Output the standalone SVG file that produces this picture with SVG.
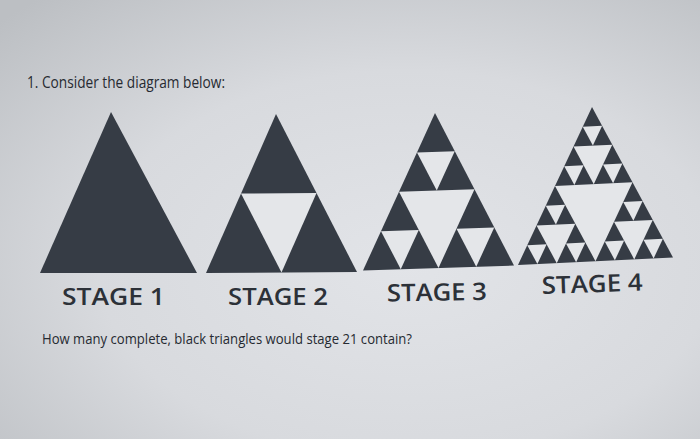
<svg xmlns="http://www.w3.org/2000/svg" xmlns:xlink="http://www.w3.org/1999/xlink" width="700" height="439" viewBox="0 0 700 439">
  <defs>
    <radialGradient id="paper" cx="0.58" cy="0.6" r="0.8">
      <stop offset="0" stop-color="#e2e4e8"/>
      <stop offset="0.55" stop-color="#d8dade"/>
      <stop offset="1" stop-color="#bcbfc3"/>
    </radialGradient>
    <!-- Sierpinski holes in canonical coords: base (0,0)-(1,0), apex (0.5,1) -->
    <g id="h1">
      <polygon class="hole" points="0.25,0.5 0.75,0.5 0.5,0"/>
    </g>
    <g id="h2">
      <polygon class="hole" points="0.125,0.25 0.375,0.25 0.25,0"/>
      <polygon class="hole" points="0.625,0.25 0.875,0.25 0.75,0"/>
      <polygon class="hole" points="0.375,0.75 0.625,0.75 0.5,0.5"/>
    </g>
    <g id="h3">
      <polygon class="hole" points="0.0625,0.125 0.1875,0.125 0.125,0"/>
      <polygon class="hole" points="0.3125,0.125 0.4375,0.125 0.375,0"/>
      <polygon class="hole" points="0.1875,0.375 0.3125,0.375 0.25,0.25"/>
      <polygon class="hole" points="0.5625,0.125 0.6875,0.125 0.625,0"/>
      <polygon class="hole" points="0.8125,0.125 0.9375,0.125 0.875,0"/>
      <polygon class="hole" points="0.6875,0.375 0.8125,0.375 0.75,0.25"/>
      <polygon class="hole" points="0.3125,0.625 0.4375,0.625 0.375,0.5"/>
      <polygon class="hole" points="0.5625,0.625 0.6875,0.625 0.625,0.5"/>
      <polygon class="hole" points="0.4375,0.875 0.5625,0.875 0.5,0.75"/>
    </g>
    <polygon id="tri" class="dark" points="0,0 1,0 0.5,1"/>
  </defs>
  <style>
    .dark { fill: #363c45; }
    .hole { fill: #e4e6e9; }
    .txt { font-family: "Open Sans", "Liberation Sans", sans-serif; font-weight: 500; fill: #262a31; }
    .stage { font-family: "Open Sans", "Liberation Sans", sans-serif; font-weight: 600; font-size: 24px; fill: #2c3138; }
  </style>

  <rect x="0" y="0" width="700" height="439" fill="url(#paper)"/>

  <text class="txt" x="27" y="88" font-size="16.5" textLength="198" lengthAdjust="spacingAndGlyphs">1. Consider the diagram below:</text>

  <g id="stage1" transform="matrix(157,0,-7.5,-161,40,273)">
    <use xlink:href="#tri"/>
  </g>
  <g id="stage2" transform="matrix(151,-1,-5.5,-158.5,206,273)">
    <use xlink:href="#tri"/>
    <use xlink:href="#h1"/>
  </g>
  <g id="stage3" transform="matrix(151,-5,-3.5,-155,363,270.5)">
    <use xlink:href="#tri"/>
    <use xlink:href="#h1"/>
    <use xlink:href="#h2"/>
  </g>
  <g id="stage4" transform="matrix(155,-7.5,-3.5,-154.25,518,265)">
    <use xlink:href="#tri"/>
    <use xlink:href="#h1"/>
    <use xlink:href="#h2"/>
    <use xlink:href="#h3"/>
  </g>

  <g id="labels">
    <text class="stage" x="62" y="305" textLength="103" lengthAdjust="spacingAndGlyphs">STAGE 1</text>
    <text class="stage" x="228" y="305" textLength="100" lengthAdjust="spacingAndGlyphs">STAGE 2</text>
    <text class="stage" x="387" y="301.5" textLength="100" lengthAdjust="spacingAndGlyphs" transform="rotate(-1 387 301.5)">STAGE 3</text>
    <text class="stage" x="542" y="294" textLength="101" lengthAdjust="spacingAndGlyphs" transform="rotate(-2 542 294)">STAGE 4</text>
  </g>

  <text class="txt" x="42" y="344" font-size="14.5" textLength="370" lengthAdjust="spacingAndGlyphs">How many complete, black triangles would stage 21 contain?</text>
</svg>
